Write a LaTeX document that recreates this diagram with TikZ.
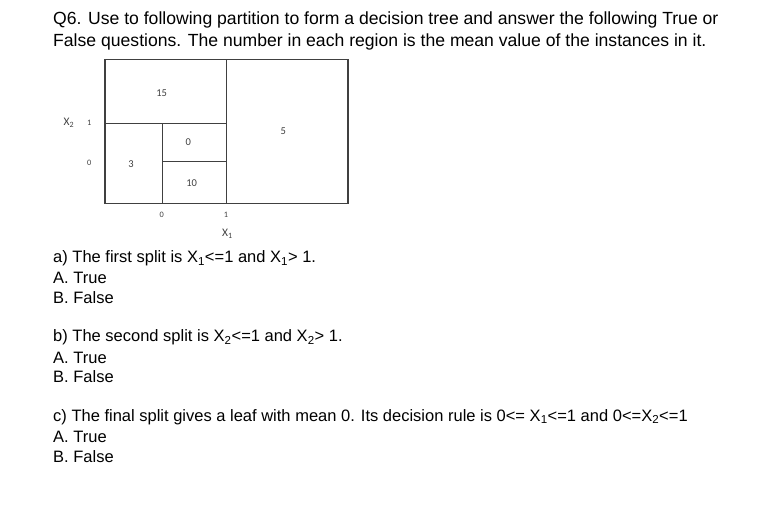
\documentclass[tikz,border=0pt]{standalone}
\usepackage{fontspec}
\setmainfont{Liberation Sans}
\newfontfamily\calib{Carlito}
\begin{document}
\begin{tikzpicture}[x=1pt,y=-1pt,
  txt/.style={anchor=west,inner sep=0pt,font=\fontsize{16.5}{19}\selectfont},
  big/.style={anchor=west,inner sep=0pt,font=\fontsize{17.6}{20}\selectfont},
  lab/.style={inner sep=0pt,text=black!75,font=\calib\fontsize{10.5}{11}\selectfont},
  tick/.style={lab,font=\calib\fontsize{8.3}{9}\selectfont},
  axis/.style={lab,font=\calib\fontsize{11.5}{12}\selectfont},
  part/.style={draw=black!75,line width=1.3pt}]
\useasboundingbox (0,0) rectangle (760,514);
% partition
\draw[part] (105,59.3) rectangle (348,203.3);
\draw[part] (226.7,59.3) -- (226.7,203.3);
\draw[part] (105,123.3) -- (226.7,123.3);
\draw[part] (162.3,123.3) -- (162.3,203.3);
\draw[part] (162.3,161.7) -- (226.7,161.7);
\node[lab] (r15) at (161.7,92.7) {15};
\node[lab] (r5) at (283.3,131) {5};
\node[lab] (r0) at (188.3,141.7) {0};
\node[lab] (r3) at (131,164.3) {3};
\node[lab] (r10) at (191.7,183.3) {10};
\node[axis] (x2) at (69,123) {X\textsubscript{2}};
\node[tick] (y1) at (89.3,122.7) {1};
\node[tick] (y0) at (89.3,163.3) {0};
\node[tick] (xa) at (161.7,215) {0};
\node[tick] (xb) at (226,215) {1};
\node[axis] (x1) at (227.5,233.5) {X\textsubscript{1}};
% text
\node[big] (q1) at (53,20) {Q6. Use to following partition to form a decision tree and answer the following True or};
\node[big] (q2) at (53,42) {False questions. The number in each region is the mean value of the instances in it.};
\node[txt] (a0) at (53,258.5) {a) The first split is X\textsubscript{1}<=1 and X\textsubscript{1}> 1.};
\node[txt] (a1) at (53,278) {A. True};
\node[txt] (a2) at (53,297.5) {B. False};
\node[txt] (b0) at (53,337.5) {b) The second split is X\textsubscript{2}<=1 and X\textsubscript{2}> 1.};
\node[txt] (b1) at (53,357.5) {A. True};
\node[txt] (b2) at (53,377) {B. False};
\node[txt] (c0) at (53,417) {c) The final split gives a leaf with mean 0. Its decision rule is 0<= X\textsubscript{1}<=1 and 0<=X\textsubscript{2}<=1};
\node[txt] (c1) at (53,437) {A. True};
\node[txt] (c2) at (53,457) {B. False};
\end{tikzpicture}
\end{document}
